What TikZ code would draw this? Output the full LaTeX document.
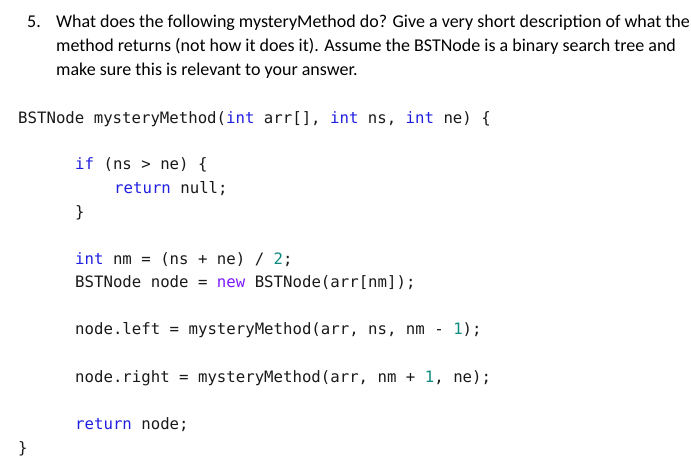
\documentclass[tikz,border=0pt]{standalone}
\usepackage{fontspec}
\setmainfont{Carlito}
\setmonofont{DejaVu Sans Mono}
\definecolor{kw}{HTML}{1F1FE0}
\definecolor{nw}{HTML}{7A1AFF}
\definecolor{num}{HTML}{0F8A80}
\begin{document}
\begin{tikzpicture}[x=1pt,y=-1pt,
  q/.style={anchor=west,inner sep=0pt,font=\fontsize{18}{20}\selectfont,text height=11pt,text depth=3pt},
  c/.style={anchor=west,inner sep=0pt,font=\fontsize{15.7}{18}\selectfont\ttfamily,text height=10pt,text depth=3pt,text=black!90}]
\useasboundingbox (0,0) rectangle (691,465);
\node[q] (n5) at (27,24) {5.};
\node[q] (q1) at (56,24) {What does the following mysteryMethod do? Give a very short description of what the};
\node[q] (q2) at (56,48) {method returns (not how it does it). Assume the BSTNode is a binary search tree and};
\node[q] (q3) at (56,72) {make sure this is relevant to your answer.};
\node[c] (l1) at (18,120) {BSTNode mysteryMethod(\textcolor{kw}{int} arr[], \textcolor{kw}{int} ns, \textcolor{kw}{int} ne) \{};
\node[c] (l2) at (75,166) {\textcolor{kw}{if} (ns > ne) \{};
\node[c] (l3) at (114,190) {\textcolor{kw}{return} null;};
\node[c] (l4) at (75,214) {\}};
\node[c] (l5) at (75,261) {\textcolor{kw}{int} nm = (ns + ne) / \textcolor{num}{2};};
\node[c] (l6) at (75,284) {BSTNode node = \textcolor{nw}{new} BSTNode(arr[nm]);};
\node[c] (l7) at (75,331) {node.left = mysteryMethod(arr, ns, nm - \textcolor{num}{1});};
\node[c] (l8) at (75,379) {node.right = mysteryMethod(arr, nm + \textcolor{num}{1}, ne);};
\node[c] (l9) at (75,426) {\textcolor{kw}{return} node;};
\node[c] (l10) at (18,450) {\}};
\end{tikzpicture}
\end{document}
